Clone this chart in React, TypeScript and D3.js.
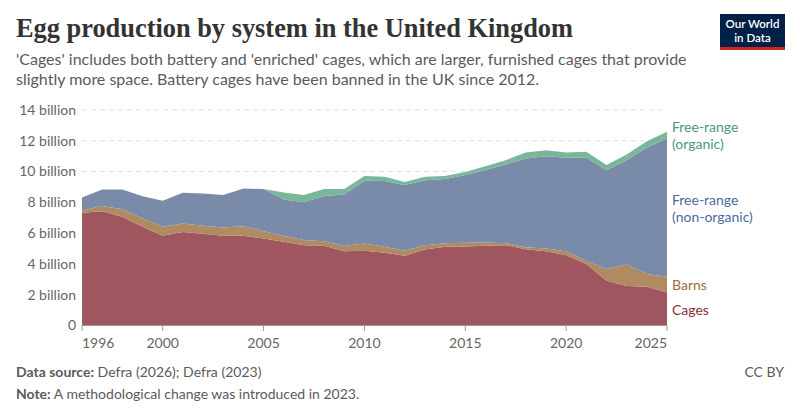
import React from "react";
import * as d3 from "d3";

// values in billions of eggs
const years = d3.range(1996, 2026);
const cages = [7.32, 7.43, 7.06, 6.41, 5.83, 6.07, 5.96, 5.83, 5.83, 5.66, 5.44, 5.22, 5.18, 4.83, 4.85, 4.73, 4.53, 4.94, 5.11, 5.14, 5.18, 5.22, 4.96, 4.83, 4.57, 3.99, 2.91, 2.56, 2.52, 2.15];
const barns = [0.15, 0.34, 0.5, 0.55, 0.58, 0.56, 0.52, 0.54, 0.61, 0.47, 0.37, 0.33, 0.3, 0.33, 0.48, 0.38, 0.32, 0.28, 0.24, 0.23, 0.22, 0.13, 0.13, 0.18, 0.26, 0.2, 0.76, 1.41, 0.82, 1.02];
const freeRange = [0.85, 1.07, 1.28, 1.44, 1.69, 1.99, 2.1, 2.1, 2.46, 2.73, 2.38, 2.45, 2.94, 3.35, 4.07, 4.27, 4.27, 4.22, 4.16, 4.4, 4.71, 5.11, 5.76, 5.99, 6.06, 6.72, 6.42, 6.77, 8.22, 8.98];
const organic = [0, 0, 0, 0, 0, 0, 0, 0, 0, 0, 0.45, 0.47, 0.44, 0.35, 0.32, 0.28, 0.21, 0.22, 0.21, 0.21, 0.24, 0.28, 0.39, 0.39, 0.35, 0.37, 0.33, 0.37, 0.41, 0.43];

const seriesKeys = ["cages", "barns", "freeRange", "organic"];
const seriesColors = ["#a0565e", "#b08a60", "#7a8ba9", "#79b799"];
const yTicks = [0, 2, 4, 6, 8, 10, 12, 14];
const xTicks = [1996, 2000, 2005, 2010, 2015, 2020, 2025];

const labels = [
  { lines: ["Free-range", "(organic)"], color: "#4a9a7a", y: 127 },
  { lines: ["Free-range", "(non-organic)"], color: "#4C6A9C", y: 200 },
  { lines: ["Barns"], color: "#996D39", y: 285 },
  { lines: ["Cages"], color: "#883039", y: 310 },
];

const W = 800;
const H = 418;
const font = "Lato, 'Noto Sans', sans-serif";

export default function App() {
  const rows = years.map((yr, i) => ({
    year: yr,
    cages: cages[i],
    barns: barns[i],
    freeRange: freeRange[i],
    organic: organic[i],
  }));

  const x = d3.scaleLinear().domain([1996, 2025]).range([82, 667]);
  const y = d3.scaleLinear().domain([0, 14]).range([325.5, 110]);

  const stacked = d3.stack<any>().keys(seriesKeys)(rows);
  const area = d3
    .area<any>()
    .x((d) => x(d.data.year))
    .y0((d) => y(d[0]))
    .y1((d) => y(d[1]));

  return (
    <svg width={W} height={H} style={{ position: "absolute", left: 0, top: 0 }}>
      <rect width={W} height={H} fill="#fff" />

      {/* title + subtitle */}
      <text x={16} y={37} fontFamily="'Liberation Serif', serif" fontSize={27} fontWeight={600} fill="#333" textLength={557} lengthAdjust="spacingAndGlyphs">
        Egg production by system in the United Kingdom
      </text>
      <text x={16} y={65} fontFamily={font} fontSize={16} fill="#5b5b5b">
        'Cages' includes both battery and 'enriched' cages, which are larger, furnished cages that provide
      </text>
      <text x={16} y={85} fontFamily={font} fontSize={16} fill="#5b5b5b">
        slightly more space. Battery cages have been banned in the UK since 2012.
      </text>

      {/* logo */}
      <rect x={720} y={14} width={65} height={33} fill="#002147" />
      <rect x={720} y={47} width={65} height={3} fill="#ce261e" />
      <text x={752.5} y={28} textAnchor="middle" fontFamily={font} fontSize={11.5} fontWeight={600} fill="#fff">Our World</text>
      <text x={752.5} y={42} textAnchor="middle" fontFamily={font} fontSize={11.5} fontWeight={600} fill="#fff">in Data</text>

      {/* grid + y axis */}
      {yTicks.map((t) => (
        <g key={t}>
          {t > 0 && (
            <line x1={82} x2={667} y1={y(t)} y2={y(t)} stroke="#ddd" strokeDasharray="5,4" />
          )}
          <text x={76} y={y(t)} dy="0.35em" textAnchor="end" fontFamily={font} fontSize={14} fill="#666">
            {t === 0 ? "0" : `${t} billion`}
          </text>
        </g>
      ))}

      {/* stacked areas */}
      {stacked.map((s, i) => (
        <path key={s.key} d={area(s) || ""} fill={seriesColors[i]} />
      ))}

      {/* x axis */}
      <line x1={82} x2={667} y1={325.5} y2={325.5} stroke="#999" />
      {xTicks.map((t, i) => (
        <g key={t}>
          <line x1={x(t)} x2={x(t)} y1={325.5} y2={331} stroke="#999" />
          <text
            x={x(t)}
            y={348}
            textAnchor={i === 0 ? "start" : i === xTicks.length - 1 ? "end" : "middle"}
            fontFamily={font}
            fontSize={14}
            fill="#666"
          >
            {t}
          </text>
        </g>
      ))}

      {/* series labels */}
      {labels.map((l) => (
        <text key={l.lines[0] + l.y} x={672} y={l.y} fontFamily={font} fontSize={14} fill={l.color}>
          {l.lines.map((ln, j) => (
            <tspan key={j} x={672} dy={j === 0 ? "0.35em" : 17}>
              {ln}
            </tspan>
          ))}
        </text>
      ))}

      {/* footer */}
      <text x={16} y={377} fontFamily={font} fontSize={14} fill="#5b5b5b">
        <tspan fontWeight={700}>Data source:</tspan> Defra (2026); Defra (2023)
      </text>
      <text x={784} y={377} textAnchor="end" fontFamily={font} fontSize={14} fill="#5b5b5b">
        CC BY
      </text>
      <text x={16} y={399} fontFamily={font} fontSize={14} fill="#5b5b5b">
        <tspan fontWeight={700}>Note:</tspan> A methodological change was introduced in 2023.
      </text>
    </svg>
  );
}
